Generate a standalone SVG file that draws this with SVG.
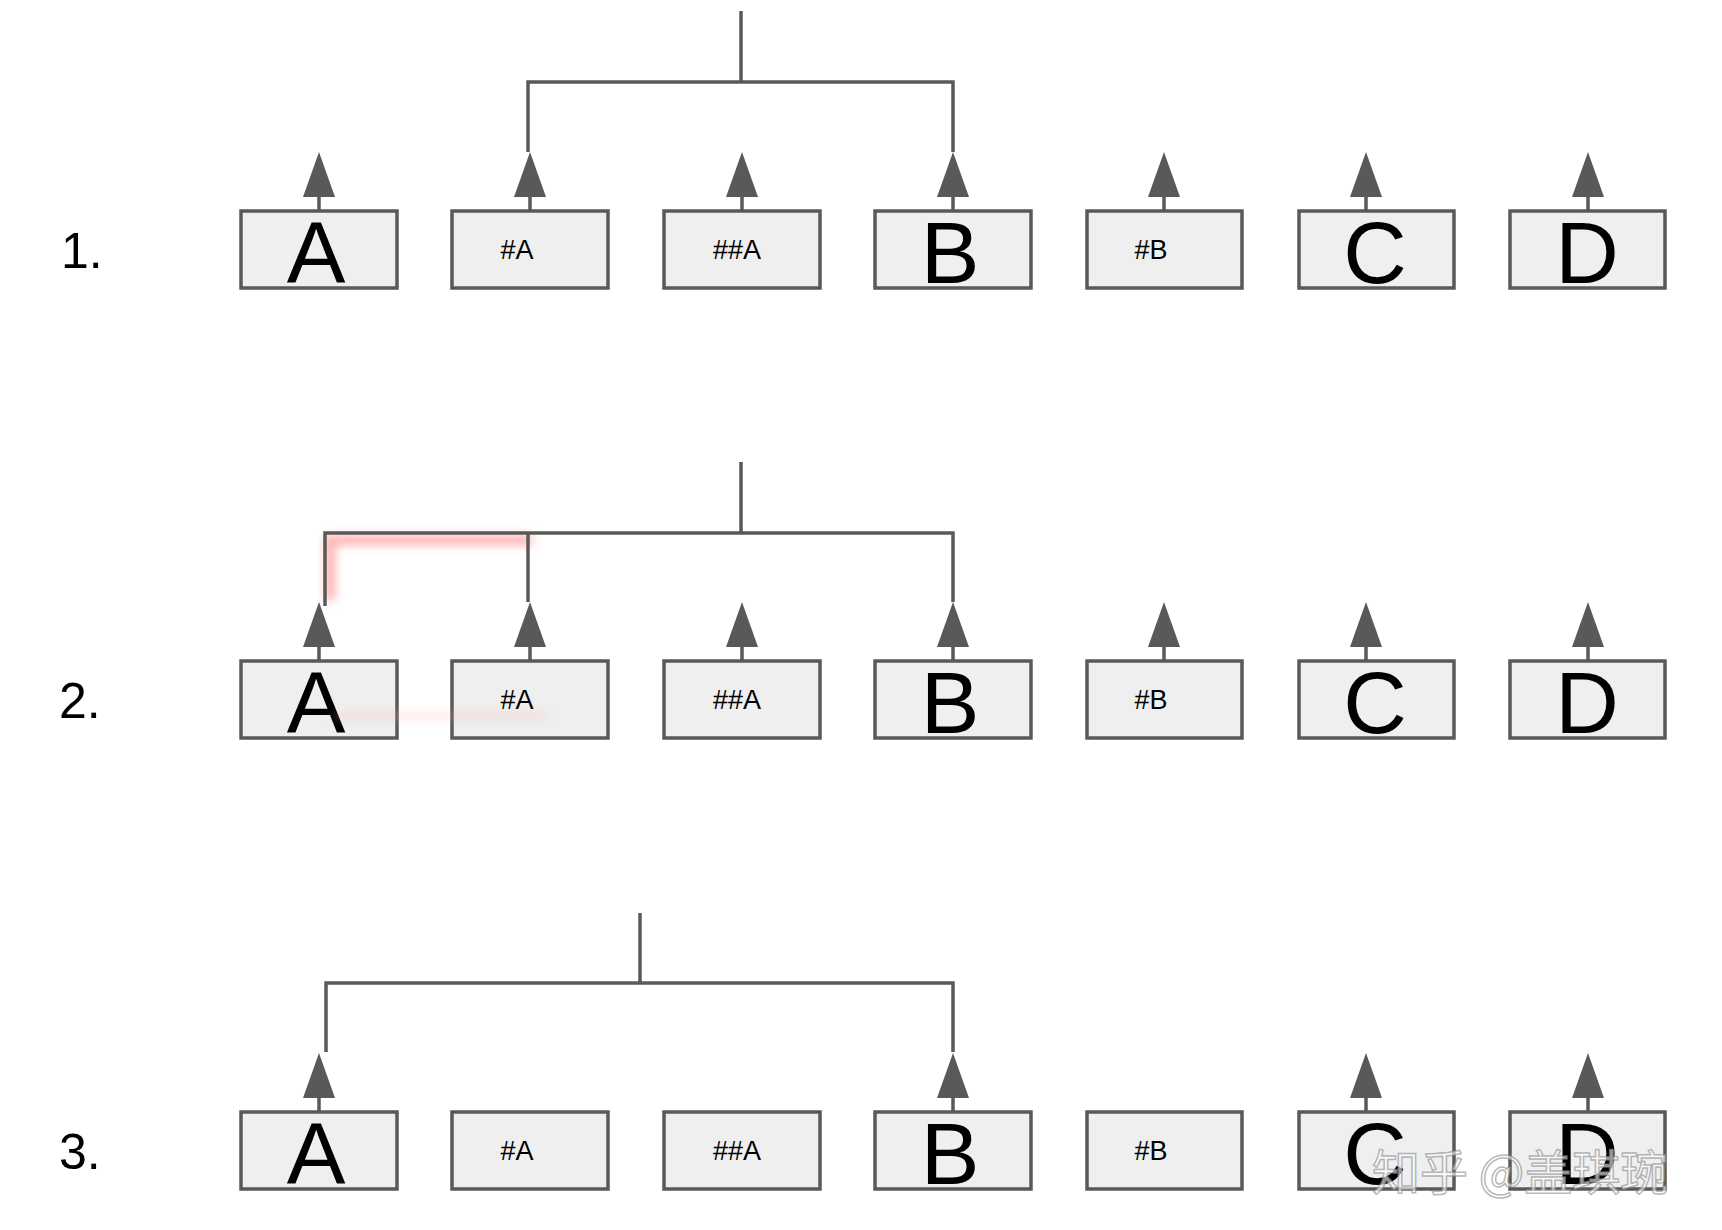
<svg xmlns="http://www.w3.org/2000/svg" xmlns:xlink="http://www.w3.org/1999/xlink" width="1722" height="1230" viewBox="0 0 1722 1230">
<style>
.box{fill:#efefef;stroke:#595959;stroke-width:3.5}
.big{font-family:"Liberation Sans",Arial,sans-serif;font-size:88px;text-anchor:middle;fill:#000}
.sm{font-family:"Liberation Sans",Arial,sans-serif;font-size:27px;text-anchor:middle;fill:#000}
.num{font-family:"Liberation Sans",Arial,sans-serif;font-size:50px;fill:#000}
.ln{fill:none;stroke:#595959;stroke-width:3.5}
</style>
<defs>
<g id="arr"><line x1="0" y1="0" x2="0" y2="-18" stroke="#595959" stroke-width="3.5"/><polygon points="-16,-14 16,-14 0,-59" fill="#595959"/></g>
<filter id="glow" x="-20%" y="-20%" width="140%" height="140%"><feGaussianBlur stdDeviation="5"/></filter>
</defs>
<rect width="1722" height="1230" fill="#fff"/>
<g id="labels">
<text class="num" x="61" y="268">1.</text>
<text class="num" x="59" y="718">2.</text>
<text class="num" x="59" y="1169">3.</text>
</g>
<g id="row1">
<g id="r1A"><rect class="box" x="241" y="211" width="156" height="77"/><text class="big" x="316" y="283">A</text></g>
<g id="r1hA"><rect class="box" x="452" y="211" width="156" height="77"/><text class="sm" x="517" y="259">#A</text></g>
<g id="r1hhA"><rect class="box" x="664" y="211" width="156" height="77"/><text class="sm" x="737" y="259">##A</text></g>
<g id="r1B"><rect class="box" x="875" y="211" width="156" height="77"/><text class="big" x="950" y="283">B</text></g>
<g id="r1hB"><rect class="box" x="1087" y="211" width="155" height="77"/><text class="sm" x="1151" y="259">#B</text></g>
<g id="r1C"><rect class="box" x="1299" y="211" width="155" height="77"/><text class="big" x="1375" y="283">C</text></g>
<g id="r1D"><rect class="box" x="1510" y="211" width="155" height="77"/><text class="big" x="1587" y="283">D</text></g>
</g>
<g id="row2">
<g id="r2A"><rect class="box" x="241" y="661" width="156" height="77"/><text class="big" x="316" y="733">A</text></g>
<g id="r2hA"><rect class="box" x="452" y="661" width="156" height="77"/><text class="sm" x="517" y="709">#A</text></g>
<g id="r2hhA"><rect class="box" x="664" y="661" width="156" height="77"/><text class="sm" x="737" y="709">##A</text></g>
<g id="r2B"><rect class="box" x="875" y="661" width="156" height="77"/><text class="big" x="950" y="733">B</text></g>
<g id="r2hB"><rect class="box" x="1087" y="661" width="155" height="77"/><text class="sm" x="1151" y="709">#B</text></g>
<g id="r2C"><rect class="box" x="1299" y="661" width="155" height="77"/><text class="big" x="1375" y="733">C</text></g>
<g id="r2D"><rect class="box" x="1510" y="661" width="155" height="77"/><text class="big" x="1587" y="733">D</text></g>
</g>
<g id="row3">
<g id="r3A"><rect class="box" x="241" y="1112" width="156" height="77"/><text class="big" x="316" y="1184">A</text></g>
<g id="r3hA"><rect class="box" x="452" y="1112" width="156" height="77"/><text class="sm" x="517" y="1160">#A</text></g>
<g id="r3hhA"><rect class="box" x="664" y="1112" width="156" height="77"/><text class="sm" x="737" y="1160">##A</text></g>
<g id="r3B"><rect class="box" x="875" y="1112" width="156" height="77"/><text class="big" x="950" y="1184">B</text></g>
<g id="r3hB"><rect class="box" x="1087" y="1112" width="155" height="77"/><text class="sm" x="1151" y="1160">#B</text></g>
<g id="r3C"><rect class="box" x="1299" y="1112" width="155" height="77"/><text class="big" x="1375" y="1184">C</text></g>
<g id="r3D"><rect class="box" x="1510" y="1112" width="155" height="77"/><text class="big" x="1587" y="1184">D</text></g>
</g>
<g id="highlight" filter="url(#glow)" opacity="0.6">
<path d="M330,600 V540 H532" fill="none" stroke="#ff7777" stroke-width="10"/>
<line x1="333" y1="716" x2="548" y2="716" stroke="#ffaaaa" stroke-width="3"/>
</g>
<g id="connectors">
<use xlink:href="#arr" x="319" y="211"/><use xlink:href="#arr" x="530" y="211"/><use xlink:href="#arr" x="742" y="211"/><use xlink:href="#arr" x="953" y="211"/><use xlink:href="#arr" x="1164" y="211"/><use xlink:href="#arr" x="1366" y="211"/><use xlink:href="#arr" x="1588" y="211"/>
<path class="ln" d="M741,11 V82 M528,152 V82 H953 V152"/>
<use xlink:href="#arr" x="319" y="661"/><use xlink:href="#arr" x="530" y="661"/><use xlink:href="#arr" x="742" y="661"/><use xlink:href="#arr" x="953" y="661"/><use xlink:href="#arr" x="1164" y="661"/><use xlink:href="#arr" x="1366" y="661"/><use xlink:href="#arr" x="1588" y="661"/>
<path class="ln" d="M741,462 V533 M325,606 V533 H953 V602 M528,533 V602"/>
<use xlink:href="#arr" x="319" y="1112"/><use xlink:href="#arr" x="953" y="1112"/><use xlink:href="#arr" x="1366" y="1112"/><use xlink:href="#arr" x="1588" y="1112"/>
<path class="ln" d="M640,913 V983 M326,1052 V983 H953 V1052"/>
</g>
<text x="1372" y="1190" font-family="'Noto Sans CJK SC',sans-serif" font-size="48" fill="#ffffff" fill-opacity="0.6" stroke="#888" stroke-opacity="0.6" stroke-width="1.5">知乎 @盖琪琬</text>
</svg>
